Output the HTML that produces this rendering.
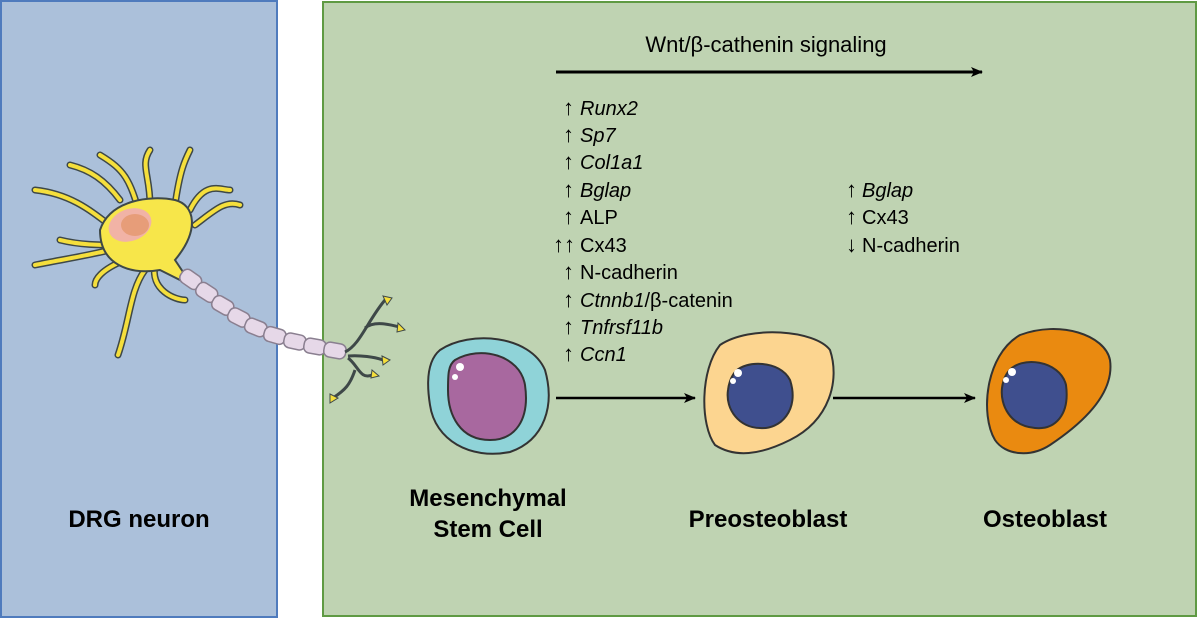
<!DOCTYPE html>
<html><head><meta charset="utf-8"><style>
html,body{margin:0;padding:0;background:#fff}
svg{display:block}
text{font-family:"Liberation Sans",Arial,sans-serif}
</style></head><body>
<svg width="1200" height="620" viewBox="0 0 1200 620" xmlns="http://www.w3.org/2000/svg">
<defs>
<marker id="ah" markerWidth="12" markerHeight="10" refX="11" refY="5" orient="auto" markerUnits="userSpaceOnUse">
<path d="M0,0 L12,5 L0,10 L3,5 Z" fill="#000"/></marker>
</defs>
<rect x="1" y="1" width="276" height="616" fill="#abc0da" stroke="#4f7bbd" stroke-width="2"/>
<rect x="323" y="2" width="873" height="614" fill="#bfd3b2" stroke="#5f9a43" stroke-width="2"/>

<g fill="none" stroke-linecap="round">
<g stroke="#3e4848" stroke-width="7">
<path d="M130,240 C100,220 80,195 35,190"/>
<path d="M120,200 C105,180 90,170 70,165"/>
<path d="M140,215 C130,180 125,170 100,155"/>
<path d="M150,205 C150,175 140,165 150,150"/>
<path d="M175,205 C180,170 185,160 190,150"/>
<path d="M190,210 C205,180 220,190 230,190"/>
<path d="M195,225 C215,210 225,200 240,205"/>
<path d="M110,250 C90,255 60,260 35,265"/>
<path d="M125,260 C100,270 95,280 95,285"/>
<path d="M145,270 C130,290 130,320 118,355"/>
<path d="M155,265 C150,290 175,300 185,300"/>
<path d="M115,245 C100,245 80,245 60,240"/>
</g>
<g stroke="#f5df3c" stroke-width="4">
<path d="M130,240 C100,220 80,195 35,190"/>
<path d="M120,200 C105,180 90,170 70,165"/>
<path d="M140,215 C130,180 125,170 100,155"/>
<path d="M150,205 C150,175 140,165 150,150"/>
<path d="M175,205 C180,170 185,160 190,150"/>
<path d="M190,210 C205,180 220,190 230,190"/>
<path d="M195,225 C215,210 225,200 240,205"/>
<path d="M110,250 C90,255 60,260 35,265"/>
<path d="M125,260 C100,270 95,280 95,285"/>
<path d="M145,270 C130,290 130,320 118,355"/>
<path d="M155,265 C150,290 175,300 185,300"/>
<path d="M115,245 C100,245 80,245 60,240"/>
</g>
</g>
<path d="M100,230 C110,200 150,195 175,200 C195,205 200,230 175,260 L185,275 L180,280 L160,270 C130,275 100,265 100,230 Z" fill="#f7e64a" stroke="#3e4848" stroke-width="2"/>
<ellipse cx="130" cy="225" rx="22" ry="16" fill="#f1b3a6" transform="rotate(-20 130 225)"/>
<ellipse cx="135" cy="225" rx="14" ry="11" fill="#e79d79"/>
<g fill="#e6d8e8" stroke="#8a7f90" stroke-width="1.5">
<rect x="180" y="272" width="22" height="15" rx="6" transform="rotate(35 191 279)"/>
<rect x="196" y="285" width="22" height="15" rx="6" transform="rotate(33 207 292)"/>
<rect x="212" y="298" width="22" height="15" rx="6" transform="rotate(30 223 305)"/>
<rect x="228" y="310" width="22" height="15" rx="6" transform="rotate(27 239 317)"/>
<rect x="245" y="320" width="22" height="15" rx="6" transform="rotate(22 256 327)"/>
<rect x="264" y="328" width="22" height="15" rx="6" transform="rotate(16 275 335)"/>
<rect x="284" y="334" width="22" height="15" rx="6" transform="rotate(12 295 341)"/>
<rect x="304" y="339" width="22" height="15" rx="6" transform="rotate(10 315 346)"/>
<rect x="324" y="343" width="22" height="15" rx="6" transform="rotate(10 335 350)"/>
</g>
<g fill="none" stroke="#3e4848" stroke-width="3">
<path d="M345,352 C360,345 368,320 385,300"/>
<path d="M365,328 C375,320 390,325 400,327"/>
<path d="M348,356 C360,355 375,357 383,360"/>
<path d="M348,358 C358,365 360,380 372,375"/>
<path d="M355,370 C350,385 345,390 333,398"/>
</g>
<g fill="#f5df3c" stroke="#3e4848" stroke-width="1">
<path d="M383,296 L392,298 L387,305 Z"/><path d="M398,323 L405,330 L397,332 Z"/>
<path d="M382,356 L390,360 L383,365 Z"/><path d="M372,370 L379,376 L371,378 Z"/>
<path d="M330,394 L338,398 L330,403 Z"/>
</g>

<text x="766" y="52" font-size="22" text-anchor="middle">Wnt/β-cathenin signaling</text>
<line x1="556" y1="72" x2="982" y2="72" stroke="#000" stroke-width="3" marker-end="url(#ah)"/>

<g font-size="20">
<g font-weight="bold" font-size="22">
<text x="563" y="115">↑</text><text x="563" y="142">↑</text><text x="563" y="169">↑</text>
<text x="563" y="197">↑</text><text x="563" y="224">↑</text><text x="553" y="252">↑↑</text>
<text x="563" y="279">↑</text><text x="563" y="307">↑</text><text x="563" y="334">↑</text>
<text x="563" y="361">↑</text>
<text x="846" y="197">↑</text><text x="846" y="224">↑</text><text x="846" y="252">↓</text>
</g>
<text x="580" y="115" font-style="italic">Runx2</text>
<text x="580" y="142" font-style="italic">Sp7</text>
<text x="580" y="169" font-style="italic">Col1a1</text>
<text x="580" y="197" font-style="italic">Bglap</text>
<text x="580" y="224">ALP</text>
<text x="580" y="252">Cx43</text>
<text x="580" y="279">N-cadherin</text>
<text x="580" y="307"><tspan font-style="italic">Ctnnb1</tspan>/β-catenin</text>
<text x="580" y="334" font-style="italic">Tnfrsf11b</text>
<text x="580" y="361" font-style="italic">Ccn1</text>
<text x="862" y="197" font-style="italic">Bglap</text>
<text x="862" y="224">Cx43</text>
<text x="862" y="252">N-cadherin</text>
</g>

<path d="M440,350 C470,330 530,335 545,370 C555,405 545,440 510,452 C470,460 435,440 430,405 C426,380 428,360 440,350 Z" fill="#8fd3d8" stroke="#333" stroke-width="2"/>
<path d="M455,360 C480,345 520,355 525,385 C530,420 515,440 490,440 C460,440 448,415 448,390 C448,375 448,365 455,360 Z" fill="#a8689f" stroke="#333" stroke-width="2"/>
<circle cx="460" cy="367" r="4" fill="#fff"/><circle cx="455" cy="377" r="3" fill="#fff"/>
<line x1="556" y1="398" x2="695" y2="398" stroke="#000" stroke-width="2.5" marker-end="url(#ah)"/>

<path d="M720,345 C750,325 815,330 830,350 C840,380 830,420 790,440 C760,455 735,458 715,445 C700,425 700,370 720,345 Z" fill="#fcd590" stroke="#333" stroke-width="2"/>
<path d="M735,372 C745,360 780,360 790,380 C800,410 780,430 760,428 C740,428 725,410 728,390 C729,382 731,377 735,372 Z" fill="#3f4f8e" stroke="#333" stroke-width="2"/>
<circle cx="738" cy="373" r="4" fill="#fff"/><circle cx="733" cy="381" r="3" fill="#fff"/>
<line x1="833" y1="398" x2="975" y2="398" stroke="#000" stroke-width="2.5" marker-end="url(#ah)"/>

<path d="M1020,335 C1060,320 1105,335 1110,360 C1115,395 1080,425 1050,445 C1030,458 1005,455 995,440 C980,415 985,355 1020,335 Z" fill="#ea8a10" stroke="#333" stroke-width="2"/>
<path d="M1008,372 C1020,355 1060,360 1066,385 C1070,415 1055,430 1035,428 C1010,426 1000,405 1002,388 C1003,380 1005,376 1008,372 Z" fill="#3f4f8e" stroke="#333" stroke-width="2"/>
<circle cx="1012" cy="372" r="4" fill="#fff"/><circle cx="1006" cy="380" r="3" fill="#fff"/>

<g font-size="24" font-weight="bold" text-anchor="middle">
<text x="139" y="527">DRG neuron</text>
<text x="488" y="506">Mesenchymal</text>
<text x="488" y="537">Stem Cell</text>
<text x="768" y="527">Preosteoblast</text>
<text x="1045" y="527">Osteoblast</text>
</g>
</svg>
</body></html>
